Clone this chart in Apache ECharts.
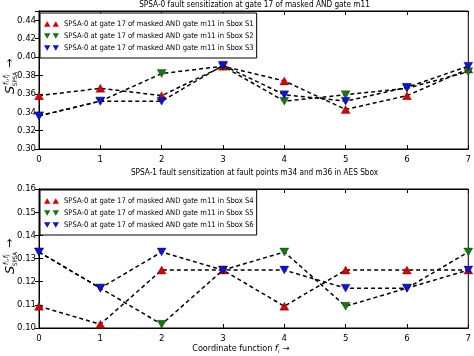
<!DOCTYPE html>
<html><head><meta charset="utf-8">
<script src="https://cdn.jsdelivr.net/npm/echarts@6/dist/echarts.min.js"></script>
<style>html,body{margin:0;padding:0;background:#fff}#c{width:474px;height:356px}</style>
</head><body><div id="c"></div>
<script>
const xCats = [0,1,2,3,4,5,6,7];
const topNames = ['SPSA-0 at gate 17 of masked AND gate m11 in Sbox S1','SPSA-0 at gate 17 of masked AND gate m11 in Sbox S2','SPSA-0 at gate 17 of masked AND gate m11 in Sbox S3'];
const botNames = ['SPSA-0 at gate 17 of masked AND gate m11 in Sbox S4','SPSA-0 at gate 17 of masked AND gate m11 in Sbox S5','SPSA-0 at gate 17 of masked AND gate m11 in Sbox S6'];
const topS1 = [0.358,0.366,0.358,0.390,0.374,0.343,0.358,0.387];
const topS2 = [0.336,0.352,0.382,0.390,0.352,0.359,0.366,0.384];
const topS3 = [0.336,0.352,0.352,0.391,0.359,0.352,0.367,0.390];
const botS4 = [0.1094,0.1016,0.125,0.125,0.1094,0.125,0.125,0.125];
const botS5 = [0.1328,0.1172,0.1016,0.125,0.1328,0.1094,0.1172,0.1328];
const botS6 = [0.1328,0.1172,0.1328,0.125,0.125,0.1172,0.1172,0.125];
const topTicks = [0.30,0.32,0.34,0.36,0.38,0.40,0.42,0.44];
const botTicks = [0.10,0.11,0.12,0.13,0.14,0.15,0.16];
const titles = ['SPSA-0 fault sensitization at gate 17 of masked AND gate m11','SPSA-1 fault sensitization at fault points m34 and m36 in AES Sbox'];

const FONT = '"DejaVu Sans Condensed", "Liberation Sans", sans-serif';
const colors = ['#e00000','#107a10','#1010e0'];
const upIcon = 'path://M0,10 L6,0 L12,10 Z M16,10 L22,0 L28,10 Z';
const downIcon = 'path://M0,0 L6,10 L12,0 Z M16,0 L22,10 L28,0 Z';
const up = 'path://M0,10 L5,0 L10,10 Z';
const down = 'path://M0,0 L5,10 L10,0 Z';

const chart = echarts.init(document.getElementById('c'));
function mk(name, vals, gi, ci, sym) {
  return {
    type:'line', name, xAxisIndex: gi*2, yAxisIndex: gi*2,
    data: xCats.map((x,i)=>[x, vals[i]]),
    symbol: sym, symbolSize: [9,8], showSymbol:true,
    itemStyle:{color: colors[ci], borderColor:'#000', borderWidth:0.3},
    lineStyle:{color:'#000', width:1.5, type:[4,3]},
    z: 2+ci, animation:false
  };
}
const axisLine = {show:true, lineStyle:{color:'#000', width:1}};
function xAx(gi) {
  return [{
    type:'value', gridIndex: gi, min:0, max:7, interval:1,
    axisLine, axisTick:{inside:true, length:4, lineStyle:{color:'#000'}},
    axisLabel:{show:true, fontFamily:FONT, fontSize:9.5, color:'#000', margin:6},
    splitLine:{show:false}
  },{
    type:'value', gridIndex: gi, min:0, max:7, interval:1, position:'top',
    axisLine, axisTick:{inside:true, length:4, lineStyle:{color:'#000'}},
    axisLabel:{show:false}, splitLine:{show:false}
  }];
}
function yAx(gi, min, max, interval, ticks) {
  return [{
    type:'value', gridIndex: gi, min, max, interval,
    axisLine, axisTick:{inside:true, length:4, lineStyle:{color:'#000'}},
    axisLabel:{fontFamily:FONT, fontSize:9.5, color:'#000', margin:3, showMaxLabel: ticks.includes(max),
      formatter: v => v.toFixed(2)},
    splitLine:{show:false}
  },{
    type:'value', gridIndex: gi, min, max, interval, position:'right',
    axisLine, axisTick:{inside:true, length:4, lineStyle:{color:'#000'}},
    axisLabel:{show:false}, splitLine:{show:false}
  }];
}
function ylabel(cy) {
  const it = 'italic 7px "DejaVu Sans", sans-serif';
  return {
    type:'group', x: 11, y: cy, rotation: Math.PI/2,
    children:[
      {type:'text', x:0, y:0, style:{text:'S', font:'italic 13px "DejaVu Sans", sans-serif', fill:'#000', verticalAlign:'middle', align:'left'}},
      {type:'text', x:9, y:-5, style:{text:'f', font:it, fill:'#000', verticalAlign:'middle', align:'left'}},
      {type:'text', x:11.5, y:-3.5, style:{text:'i', font:'italic 5px "DejaVu Sans", sans-serif', fill:'#000', verticalAlign:'middle', align:'left'}},
      {type:'text', x:13.5, y:-5, style:{text:',f', font:it, fill:'#000', verticalAlign:'middle', align:'left'}},
      {type:'text', x:18, y:-3.5, style:{text:'j', font:'italic 5px "DejaVu Sans", sans-serif', fill:'#000', verticalAlign:'middle', align:'left'}},
      {type:'text', x:8, y:4, style:{text:'SPSA', font:'6px "DejaVu Sans Condensed", sans-serif', fill:'#000', verticalAlign:'middle', align:'left'}},
      {type:'text', x:26, y:-1, style:{text:'→', font:'11px "DejaVu Sans", sans-serif', fill:'#000', verticalAlign:'middle', align:'left'}}
    ]
  };
}
function titleText(t, y) {
  return {type:'text', x:254.5, y, scaleX:0.86, style:{text:t, font:'9.5px "DejaVu Sans Condensed", sans-serif', fill:'#000', align:'center', verticalAlign:'middle'}};
}
const legendBase = {
  orient:'vertical', left:40, itemWidth:15, itemHeight:6, itemGap:4,
  borderColor:'#000', borderWidth:1, padding:[7,3,6,4], backgroundColor:'#fff',
  itemStyle:{borderWidth:0},
  textStyle:{fontFamily:FONT, fontSize:7.6, color:'#000', padding:[0,0,0,0]}
};
chart.setOption({
  animation:false,
  grid:[
    {left:39, right:4, top:11, height:138, show:true, borderColor:'#000', borderWidth:1},
    {left:39, right:4, top:189, height:139, show:true, borderColor:'#000', borderWidth:1}
  ],
  xAxis:[...xAx(0), ...xAx(1)],
  yAxis:[...yAx(0,0.30,0.45,0.02,topTicks), ...yAx(1,0.10,0.16,0.01,botTicks)],
  legend:[
    Object.assign({}, legendBase, {top:13, data:[
      {name:topNames[0], icon:upIcon},{name:topNames[1], icon:downIcon},{name:topNames[2], icon:downIcon}]}),
    Object.assign({}, legendBase, {top:190, data:[
      {name:botNames[0], icon:upIcon},{name:botNames[1], icon:downIcon},{name:botNames[2], icon:downIcon}]})
  ],
  series:[
    mk(topNames[0], topS1, 0, 0, up),
    mk(topNames[1], topS2, 0, 1, down),
    mk(topNames[2], topS3, 0, 2, down),
    mk(botNames[0], botS4, 1, 0, up),
    mk(botNames[1], botS5, 1, 1, down),
    mk(botNames[2], botS6, 1, 2, down)
  ],
  graphic:[
    titleText(titles[0], 5), titleText(titles[1], 173),
    ylabel(94), ylabel(274),
    {type:'text', x:241, y:349, style:{
      text:'Coordinate function {f|f}{s|i} →',
      rich:{f:{font:'italic 9px "DejaVu Sans", sans-serif', fill:'#000'}, s:{font:'italic 5px "DejaVu Sans", sans-serif', fill:'#000', padding:[5,1,0,0]}},
      font:'9px ' + FONT, fill:'#000', align:'center', verticalAlign:'middle'}}
  ]
});
</script></body></html>
